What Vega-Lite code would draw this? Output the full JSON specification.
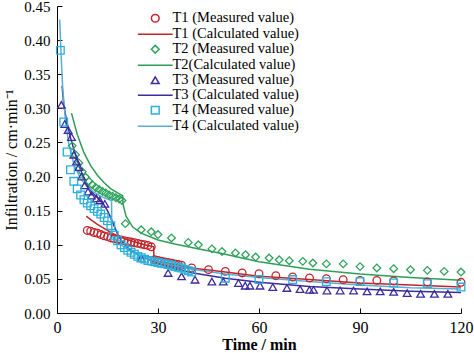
{
"$schema": "https://vega.github.io/schema/vega-lite/v6.json",
"width": 404, "height": 307,
"autosize": {"type": "none"},
"padding": {"left": 57, "top": 6, "right": 13, "bottom": 40},
"background": "white",
"config": {"view": {"stroke": null}, "font": "Liberation Serif"},
"resolve": {"legend": {"color": "independent", "shape": "independent"}},
"datasets": {
"m": [
{"s":"T1 (Measured value)","t":9,"v":0.121},{"s":"T1 (Measured value)","t":10,"v":0.120},{"s":"T1 (Measured value)","t":11,"v":0.118},{"s":"T1 (Measured value)","t":12,"v":0.117},{"s":"T1 (Measured value)","t":13,"v":0.115},{"s":"T1 (Measured value)","t":14,"v":0.113},{"s":"T1 (Measured value)","t":15,"v":0.112},{"s":"T1 (Measured value)","t":16,"v":0.110},{"s":"T1 (Measured value)","t":17,"v":0.109},{"s":"T1 (Measured value)","t":18,"v":0.108},{"s":"T1 (Measured value)","t":19,"v":0.107},{"s":"T1 (Measured value)","t":20,"v":0.106},{"s":"T1 (Measured value)","t":21,"v":0.105},{"s":"T1 (Measured value)","t":22,"v":0.104},{"s":"T1 (Measured value)","t":23,"v":0.103},{"s":"T1 (Measured value)","t":24,"v":0.102},{"s":"T1 (Measured value)","t":25,"v":0.101},{"s":"T1 (Measured value)","t":26,"v":0.100},{"s":"T1 (Measured value)","t":27,"v":0.099},{"s":"T1 (Measured value)","t":28,"v":0.097},{"s":"T1 (Measured value)","t":29,"v":0.078},{"s":"T1 (Measured value)","t":30,"v":0.077},{"s":"T1 (Measured value)","t":31,"v":0.076},{"s":"T1 (Measured value)","t":32,"v":0.075},{"s":"T1 (Measured value)","t":33,"v":0.074},{"s":"T1 (Measured value)","t":34,"v":0.073},{"s":"T1 (Measured value)","t":35,"v":0.072},{"s":"T1 (Measured value)","t":36,"v":0.071},{"s":"T1 (Measured value)","t":37,"v":0.070},{"s":"T1 (Measured value)","t":40,"v":0.066},{"s":"T1 (Measured value)","t":45,"v":0.0635},{"s":"T1 (Measured value)","t":50,"v":0.061},{"s":"T1 (Measured value)","t":55,"v":0.0587},{"s":"T1 (Measured value)","t":60,"v":0.0576},{"s":"T1 (Measured value)","t":65,"v":0.0547},{"s":"T1 (Measured value)","t":70,"v":0.0528},{"s":"T1 (Measured value)","t":75,"v":0.0513},{"s":"T1 (Measured value)","t":80,"v":0.0503},{"s":"T1 (Measured value)","t":85,"v":0.0488},{"s":"T1 (Measured value)","t":90,"v":0.0478},{"s":"T1 (Measured value)","t":95,"v":0.0478},{"s":"T1 (Measured value)","t":100,"v":0.047},{"s":"T1 (Measured value)","t":110,"v":0.0455},{"s":"T1 (Measured value)","t":120,"v":0.045},
{"s":"T2 (Measured value)","t":4.5,"v":0.245},{"s":"T2 (Measured value)","t":5.5,"v":0.232},{"s":"T2 (Measured value)","t":6.5,"v":0.220},{"s":"T2 (Measured value)","t":7.5,"v":0.207},{"s":"T2 (Measured value)","t":8.5,"v":0.199},{"s":"T2 (Measured value)","t":9.5,"v":0.193},{"s":"T2 (Measured value)","t":10.5,"v":0.188},{"s":"T2 (Measured value)","t":11.5,"v":0.184},{"s":"T2 (Measured value)","t":12.5,"v":0.181},{"s":"T2 (Measured value)","t":13.5,"v":0.178},{"s":"T2 (Measured value)","t":14.5,"v":0.176},{"s":"T2 (Measured value)","t":15.5,"v":0.173},{"s":"T2 (Measured value)","t":16.5,"v":0.171},{"s":"T2 (Measured value)","t":17.5,"v":0.169},{"s":"T2 (Measured value)","t":18.5,"v":0.167},{"s":"T2 (Measured value)","t":19.3,"v":0.165},{"s":"T2 (Measured value)","t":20.3,"v":0.131},{"s":"T2 (Measured value)","t":25,"v":0.122},{"s":"T2 (Measured value)","t":28,"v":0.119},{"s":"T2 (Measured value)","t":30,"v":0.115},{"s":"T2 (Measured value)","t":34,"v":0.110},{"s":"T2 (Measured value)","t":39,"v":0.1035},{"s":"T2 (Measured value)","t":42,"v":0.100},{"s":"T2 (Measured value)","t":46,"v":0.094},{"s":"T2 (Measured value)","t":49,"v":0.090},{"s":"T2 (Measured value)","t":53,"v":0.088},{"s":"T2 (Measured value)","t":56,"v":0.0855},{"s":"T2 (Measured value)","t":59,"v":0.082},{"s":"T2 (Measured value)","t":63,"v":0.0806},{"s":"T2 (Measured value)","t":66,"v":0.078},{"s":"T2 (Measured value)","t":69,"v":0.0767},{"s":"T2 (Measured value)","t":73,"v":0.0757},{"s":"T2 (Measured value)","t":76,"v":0.0733},{"s":"T2 (Measured value)","t":80,"v":0.072},{"s":"T2 (Measured value)","t":85,"v":0.072},{"s":"T2 (Measured value)","t":90,"v":0.068},{"s":"T2 (Measured value)","t":95,"v":0.066},{"s":"T2 (Measured value)","t":100,"v":0.065},{"s":"T2 (Measured value)","t":105,"v":0.0635},{"s":"T2 (Measured value)","t":110,"v":0.0625},{"s":"T2 (Measured value)","t":115,"v":0.061},{"s":"T2 (Measured value)","t":120,"v":0.060},
{"s":"T3 (Measured value)","t":1.3,"v":0.305},{"s":"T3 (Measured value)","t":2.3,"v":0.277},{"s":"T3 (Measured value)","t":3.3,"v":0.268},{"s":"T3 (Measured value)","t":4.3,"v":0.258},{"s":"T3 (Measured value)","t":5,"v":0.232},{"s":"T3 (Measured value)","t":5.8,"v":0.222},{"s":"T3 (Measured value)","t":6.5,"v":0.214},{"s":"T3 (Measured value)","t":7.3,"v":0.200},{"s":"T3 (Measured value)","t":8.2,"v":0.187},{"s":"T3 (Measured value)","t":9.2,"v":0.178},{"s":"T3 (Measured value)","t":10.2,"v":0.172},{"s":"T3 (Measured value)","t":11.7,"v":0.168},{"s":"T3 (Measured value)","t":12.7,"v":0.165},{"s":"T3 (Measured value)","t":14.2,"v":0.160},{"s":"T3 (Measured value)","t":25,"v":0.080},{"s":"T3 (Measured value)","t":33,"v":0.0587},{"s":"T3 (Measured value)","t":37,"v":0.0537},{"s":"T3 (Measured value)","t":41,"v":0.0488},{"s":"T3 (Measured value)","t":46,"v":0.046},{"s":"T3 (Measured value)","t":49.4,"v":0.046},{"s":"T3 (Measured value)","t":53.9,"v":0.044},{"s":"T3 (Measured value)","t":55.9,"v":0.040},{"s":"T3 (Measured value)","t":57.3,"v":0.040},{"s":"T3 (Measured value)","t":60.3,"v":0.040},{"s":"T3 (Measured value)","t":64.1,"v":0.038},{"s":"T3 (Measured value)","t":68.3,"v":0.0367},{"s":"T3 (Measured value)","t":72.2,"v":0.035},{"s":"T3 (Measured value)","t":75,"v":0.034},{"s":"T3 (Measured value)","t":76.2,"v":0.034},{"s":"T3 (Measured value)","t":80.2,"v":0.033},{"s":"T3 (Measured value)","t":84.1,"v":0.033},{"s":"T3 (Measured value)","t":88.1,"v":0.033},{"s":"T3 (Measured value)","t":92.1,"v":0.0317},{"s":"T3 (Measured value)","t":96,"v":0.0317},{"s":"T3 (Measured value)","t":100,"v":0.031},{"s":"T3 (Measured value)","t":104,"v":0.0293},{"s":"T3 (Measured value)","t":108,"v":0.028},{"s":"T3 (Measured value)","t":112.1,"v":0.028},{"s":"T3 (Measured value)","t":116.1,"v":0.028},
{"s":"T4 (Measured value)","t":1,"v":0.385},{"s":"T4 (Measured value)","t":2,"v":0.280},{"s":"T4 (Measured value)","t":3,"v":0.236},{"s":"T4 (Measured value)","t":4,"v":0.210},{"s":"T4 (Measured value)","t":5,"v":0.193},{"s":"T4 (Measured value)","t":6,"v":0.182},{"s":"T4 (Measured value)","t":7,"v":0.173},{"s":"T4 (Measured value)","t":8,"v":0.166},{"s":"T4 (Measured value)","t":9,"v":0.161},{"s":"T4 (Measured value)","t":10,"v":0.157},{"s":"T4 (Measured value)","t":11,"v":0.153},{"s":"T4 (Measured value)","t":12,"v":0.149},{"s":"T4 (Measured value)","t":13,"v":0.145},{"s":"T4 (Measured value)","t":14,"v":0.140},{"s":"T4 (Measured value)","t":15,"v":0.135},{"s":"T4 (Measured value)","t":16,"v":0.128},{"s":"T4 (Measured value)","t":17,"v":0.114},{"s":"T4 (Measured value)","t":18,"v":0.106},{"s":"T4 (Measured value)","t":19,"v":0.100},{"s":"T4 (Measured value)","t":20,"v":0.096},{"s":"T4 (Measured value)","t":21,"v":0.092},{"s":"T4 (Measured value)","t":22,"v":0.089},{"s":"T4 (Measured value)","t":23,"v":0.086},{"s":"T4 (Measured value)","t":24,"v":0.083},{"s":"T4 (Measured value)","t":25,"v":0.081},{"s":"T4 (Measured value)","t":26,"v":0.079},{"s":"T4 (Measured value)","t":27,"v":0.077},{"s":"T4 (Measured value)","t":28,"v":0.076},{"s":"T4 (Measured value)","t":29,"v":0.075},{"s":"T4 (Measured value)","t":30,"v":0.074},{"s":"T4 (Measured value)","t":31,"v":0.073},{"s":"T4 (Measured value)","t":32,"v":0.072},{"s":"T4 (Measured value)","t":33,"v":0.071},{"s":"T4 (Measured value)","t":34,"v":0.070},{"s":"T4 (Measured value)","t":35,"v":0.068},{"s":"T4 (Measured value)","t":36,"v":0.067},{"s":"T4 (Measured value)","t":37,"v":0.066},{"s":"T4 (Measured value)","t":38,"v":0.064},{"s":"T4 (Measured value)","t":39,"v":0.062},{"s":"T4 (Measured value)","t":40,"v":0.060},{"s":"T4 (Measured value)","t":50,"v":0.051},{"s":"T4 (Measured value)","t":60,"v":0.049},{"s":"T4 (Measured value)","t":70,"v":0.049},{"s":"T4 (Measured value)","t":80,"v":0.046},{"s":"T4 (Measured value)","t":90,"v":0.046},{"s":"T4 (Measured value)","t":100,"v":0.044},{"s":"T4 (Measured value)","t":110,"v":0.043},{"s":"T4 (Measured value)","t":120,"v":0.038}
],
"c": [
{"s":"T1 (Calculated value)","t":8.7,"v":0.142},{"s":"T1 (Calculated value)","t":10,"v":0.137},{"s":"T1 (Calculated value)","t":12,"v":0.130},{"s":"T1 (Calculated value)","t":14,"v":0.124},{"s":"T1 (Calculated value)","t":16,"v":0.118},{"s":"T1 (Calculated value)","t":18,"v":0.113},{"s":"T1 (Calculated value)","t":20,"v":0.109},{"s":"T1 (Calculated value)","t":22,"v":0.106},{"s":"T1 (Calculated value)","t":24,"v":0.103},{"s":"T1 (Calculated value)","t":26,"v":0.100},{"s":"T1 (Calculated value)","t":28,"v":0.098},{"s":"T1 (Calculated value)","t":28.7,"v":0.097},{"s":"T1 (Calculated value)","t":28.8,"v":0.079},{"s":"T1 (Calculated value)","t":30,"v":0.076},{"s":"T1 (Calculated value)","t":35,"v":0.071},{"s":"T1 (Calculated value)","t":40,"v":0.066},{"s":"T1 (Calculated value)","t":50,"v":0.060},{"s":"T1 (Calculated value)","t":60,"v":0.054},{"s":"T1 (Calculated value)","t":75,"v":0.049},{"s":"T1 (Calculated value)","t":90,"v":0.044},{"s":"T1 (Calculated value)","t":105,"v":0.041},{"s":"T1 (Calculated value)","t":120,"v":0.038},
{"s":"T2(Calculated value)","t":4.3,"v":0.293},{"s":"T2(Calculated value)","t":6,"v":0.262},{"s":"T2(Calculated value)","t":8,"v":0.235},{"s":"T2(Calculated value)","t":10,"v":0.216},{"s":"T2(Calculated value)","t":12,"v":0.202},{"s":"T2(Calculated value)","t":14,"v":0.191},{"s":"T2(Calculated value)","t":16,"v":0.182},{"s":"T2(Calculated value)","t":18,"v":0.176},{"s":"T2(Calculated value)","t":19.5,"v":0.172},{"s":"T2(Calculated value)","t":19.6,"v":0.160},{"s":"T2(Calculated value)","t":20.5,"v":0.142},{"s":"T2(Calculated value)","t":22.5,"v":0.126},{"s":"T2(Calculated value)","t":25,"v":0.117},{"s":"T2(Calculated value)","t":30,"v":0.107},{"s":"T2(Calculated value)","t":35,"v":0.101},{"s":"T2(Calculated value)","t":40,"v":0.096},{"s":"T2(Calculated value)","t":50,"v":0.086},{"s":"T2(Calculated value)","t":60,"v":0.075},{"s":"T2(Calculated value)","t":75,"v":0.064},{"s":"T2(Calculated value)","t":90,"v":0.057},{"s":"T2(Calculated value)","t":105,"v":0.052},{"s":"T2(Calculated value)","t":120,"v":0.048},
{"s":"T3 (Calculated value)","t":1.5,"v":0.333},{"s":"T3 (Calculated value)","t":2,"v":0.305},{"s":"T3 (Calculated value)","t":3,"v":0.278},{"s":"T3 (Calculated value)","t":4,"v":0.257},{"s":"T3 (Calculated value)","t":5,"v":0.240},{"s":"T3 (Calculated value)","t":6,"v":0.224},{"s":"T3 (Calculated value)","t":7,"v":0.210},{"s":"T3 (Calculated value)","t":8,"v":0.198},{"s":"T3 (Calculated value)","t":9,"v":0.188},{"s":"T3 (Calculated value)","t":10,"v":0.180},{"s":"T3 (Calculated value)","t":11,"v":0.174},{"s":"T3 (Calculated value)","t":12,"v":0.169},{"s":"T3 (Calculated value)","t":13,"v":0.164},{"s":"T3 (Calculated value)","t":14,"v":0.158},{"s":"T3 (Calculated value)","t":15,"v":0.150},{"s":"T3 (Calculated value)","t":16,"v":0.139},{"s":"T3 (Calculated value)","t":17,"v":0.127},{"s":"T3 (Calculated value)","t":18,"v":0.116},{"s":"T3 (Calculated value)","t":19,"v":0.107},{"s":"T3 (Calculated value)","t":20,"v":0.100},{"s":"T3 (Calculated value)","t":22,"v":0.091},{"s":"T3 (Calculated value)","t":25,"v":0.083},{"s":"T3 (Calculated value)","t":30,"v":0.073},{"s":"T3 (Calculated value)","t":35,"v":0.065},{"s":"T3 (Calculated value)","t":40,"v":0.059},{"s":"T3 (Calculated value)","t":50,"v":0.051},{"s":"T3 (Calculated value)","t":60,"v":0.045},{"s":"T3 (Calculated value)","t":75,"v":0.039},{"s":"T3 (Calculated value)","t":90,"v":0.035},{"s":"T3 (Calculated value)","t":105,"v":0.032},{"s":"T3 (Calculated value)","t":120,"v":0.030},
{"s":"T4 (Calculated value)","t":0.8,"v":0.430},{"s":"T4 (Calculated value)","t":1.2,"v":0.380},{"s":"T4 (Calculated value)","t":1.7,"v":0.330},{"s":"T4 (Calculated value)","t":2.5,"v":0.283},{"s":"T4 (Calculated value)","t":3.5,"v":0.248},{"s":"T4 (Calculated value)","t":5,"v":0.218},{"s":"T4 (Calculated value)","t":7,"v":0.197},{"s":"T4 (Calculated value)","t":9,"v":0.185},{"s":"T4 (Calculated value)","t":11,"v":0.177},{"s":"T4 (Calculated value)","t":13,"v":0.171},{"s":"T4 (Calculated value)","t":15,"v":0.167},{"s":"T4 (Calculated value)","t":16.2,"v":0.165},{"s":"T4 (Calculated value)","t":16.3,"v":0.113},{"s":"T4 (Calculated value)","t":18,"v":0.104},{"s":"T4 (Calculated value)","t":20,"v":0.096},{"s":"T4 (Calculated value)","t":22,"v":0.090},{"s":"T4 (Calculated value)","t":25,"v":0.083},{"s":"T4 (Calculated value)","t":30,"v":0.075},{"s":"T4 (Calculated value)","t":35,"v":0.069},{"s":"T4 (Calculated value)","t":40,"v":0.064},{"s":"T4 (Calculated value)","t":50,"v":0.057},{"s":"T4 (Calculated value)","t":60,"v":0.052},{"s":"T4 (Calculated value)","t":75,"v":0.046},{"s":"T4 (Calculated value)","t":90,"v":0.041},{"s":"T4 (Calculated value)","t":105,"v":0.037},{"s":"T4 (Calculated value)","t":120,"v":0.035}
]
},
"encoding": {
"x": {"field": "t", "type": "quantitative",
"scale": {"domain": [0, 120], "nice": false, "zero": false},
"axis": {"values": [0, 30, 60, 90, 120], "title": "Time / min", "grid": false,
"domainColor": "black", "tickColor": "black", "tickSize": -5,
"labelFont": "Liberation Serif", "labelFontSize": 16, "labelColor": "black", "labelPadding": 11, "labelFlush": false,
"titleFont": "Liberation Serif", "titleFontSize": 16, "titleFontWeight": "bold", "titleColor": "black", "titlePadding": 1}},
"y": {"field": "v", "type": "quantitative",
"scale": {"domain": [0, 0.45], "nice": false},
"axis": {"values": [0, 0.05, 0.1, 0.15, 0.2, 0.25, 0.3, 0.35, 0.4, 0.45], "format": ".2f", "title": "Infiltration / cm·min⁻¹", "grid": false,
"domainColor": "black", "tickColor": "black", "tickSize": -5,
"labelFont": "Liberation Serif", "labelFontSize": 15, "labelColor": "black", "labelPadding": 12, "labelFlush": false,
"titleFont": "Liberation Serif", "titleFontSize": 16, "titleFontWeight": "normal", "titleColor": "black", "titlePadding": 4}}
},
"layer": [
{"data": {"name": "c"},
"mark": {"type": "line", "strokeWidth": 1.5},
"encoding": {"color": {"field": "s", "type": "nominal", "legend": null,
"scale": {"domain": ["T1 (Measured value)","T1 (Calculated value)","T2 (Measured value)","T2(Calculated value)","T3 (Measured value)","T3 (Calculated value)","T4 (Measured value)","T4 (Calculated value)"],
"range": ["#c0272d","#c0272d","#2fa35c","#2e9e58","#3c2d9e","#3c2d9e","#2bb0dc","#5aaed6"]}}}},
{"data": {"name": "m"},
"mark": {"type": "point", "filled": false, "size": 58, "strokeWidth": 1.3, "opacity": 1},
"encoding": {
"color": {"field": "s", "type": "nominal", "title": null,
"legend": {"orient": "none", "legendX": 91, "legendY": 5, "title": null, "padding": 0, "rowPadding": 0, "labelFont": "Liberation Serif", "labelFontSize": 14.5, "labelColor": "black", "labelOffset": 10, "symbolSize": 60, "symbolStrokeWidth": 1.5, "symbolOpacity": 1, "labelLimit": 300}},
"shape": {"field": "s", "type": "nominal", "title": null,
"scale": {"domain": ["T1 (Measured value)","T1 (Calculated value)","T2 (Measured value)","T2(Calculated value)","T3 (Measured value)","T3 (Calculated value)","T4 (Measured value)","T4 (Calculated value)"],
"range": ["circle","M-4.5,0H4.5","diamond","M-4.5,0H4.5","triangle-up","M-4.5,0H4.5","square","M-4.5,0H4.5"]},
"legend": {"orient": "none", "legendX": 91, "legendY": 5, "title": null, "padding": 0, "rowPadding": 0, "labelFont": "Liberation Serif", "labelFontSize": 14.5, "labelColor": "black", "labelOffset": 10, "symbolSize": 60, "symbolStrokeWidth": 1.5, "symbolOpacity": 1, "labelLimit": 300}}
}}
]
}
